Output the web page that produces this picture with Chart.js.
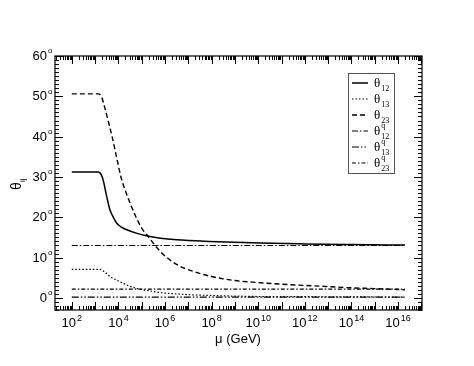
<!DOCTYPE html>
<html>
<head>
<meta charset="utf-8">
<script src="https://cdn.jsdelivr.net/npm/chart.js@4.4.1/dist/chart.umd.min.js"></script>
<style>
  body { margin: 0; background: #fff; }
  #wrap { width: 474px; height: 366px; }
</style>
</head>
<body>
<div id="wrap"><canvas id="mixChart" width="474" height="366"></canvas></div>
<script>
// log10(mu / GeV) and angles in degrees
const logMu12 = [2, 3.13, 3.28, 3.36, 3.43, 3.5, 3.64, 3.8, 3.93, 4.15, 4.36, 4.8, 5.2, 5.8, 6.5, 7.9, 10.1, 12, 14, 16.3];
const theta12 = [31.2, 31.2, 30.4, 28.9, 27.0, 25.1, 21.8, 19.8, 18.5, 17.5, 16.9, 16.0, 15.4, 14.8, 14.4, 14.0, 13.6, 13.4, 13.25, 13.1];

const logMu13 = [2, 3.2, 3.4, 3.64, 4.0, 4.36, 4.7, 5.07, 5.5, 5.8, 6.5, 7.2, 8, 9, 10, 12, 14, 16.3];
const theta13 = [7.1, 7.1, 6.5, 5.3, 4.2, 3.2, 2.5, 2.0, 1.6, 1.3, 1.0, 0.75, 0.6, 0.45, 0.35, 0.3, 0.25, 0.2];

const logMu23 = [2, 3.14, 3.28, 3.4, 3.6, 3.73, 3.9, 4.11, 4.4, 4.76, 5.0, 5.28, 5.8, 6.5, 7.2, 8.0, 9.0, 10.0, 11.0, 12.0, 13.0, 14.0, 15.0, 16.3];
const theta23 = [50.6, 50.6, 49.8, 47.5, 43.0, 40.0, 35.5, 30.0, 25.0, 20.0, 17.3, 15.2, 11.5, 8.3, 6.6, 5.3, 4.3, 3.8, 3.4, 3.1, 2.8, 2.5, 2.3, 2.0];

const logMuQ = [2, 16.3];
const thetaQ12 = [13.0, 13.0];
const thetaQ13 = [0.2, 0.2];
const thetaQ23 = [2.2, 2.2];

const yTicks = [0, 10, 20, 30, 40, 50, 60];
const xTickExps = [2, 4, 6, 8, 10, 12, 14, 16];

// legend: [superscript, subscript]
const legendLabels = [['', '12'], ['', '13'], ['', '23'], ['q', '12'], ['q', '13'], ['q', '23']];

function pts(xs, ys) {
    return xs.map((e, i) => ({ x: Math.pow(10, e), y: ys[i] }));
}

function line(ctx, x1, y1, x2, y2) {
    ctx.beginPath();
    ctx.moveTo(x1, y1);
    ctx.lineTo(x2, y2);
    ctx.stroke();
}

// frame with inward ticks, tick labels, axis titles and the legend box
const framePlugin = {
    id: 'frame',
    afterDraw(chart) {
        const { ctx, chartArea: a, scales: { x, y } } = chart;
        ctx.save();
        ctx.strokeStyle = '#000';
        ctx.fillStyle = '#000';
        ctx.lineWidth = 1.2;
        ctx.setLineDash([]);
        ctx.strokeRect(a.left, a.top, a.right - a.left, a.bottom - a.top);

        ctx.lineWidth = 1;
        // y ticks every degree
        for (let v = Math.ceil(y.min); v <= y.max; v++) {
            const p = Math.round(y.getPixelForValue(v)) + 0.5;
            const len = v % 10 === 0 ? 8 : 4;
            line(ctx, a.left, p, a.left + len, p);
            line(ctx, a.right, p, a.right - len, p);
        }
        // x ticks, log minor
        for (let d = 1; d <= 17; d++) {
            for (let k = 1; k <= 9; k++) {
                const val = k * Math.pow(10, d);
                if (val < x.min || val > x.max) continue;
                const p = Math.round(x.getPixelForValue(val)) + 0.5;
                const len = k === 1 ? 8 : 4;
                line(ctx, p, a.bottom, p, a.bottom - len);
                line(ctx, p, a.top, p, a.top + len);
            }
        }

        // y tick labels with superscript o
        ctx.textBaseline = 'middle';
        yTicks.forEach(v => {
            const p = y.getPixelForValue(v);
            ctx.font = '13px "Liberation Sans", Arial, sans-serif';
            ctx.textAlign = 'right';
            ctx.fillText(String(v), 47, p + 0.5);
            ctx.font = '8px "Liberation Sans", Arial, sans-serif';
            ctx.textAlign = 'left';
            ctx.fillText('o', 48, p - 5);
        });

        // x tick labels 10^n
        xTickExps.forEach(e => {
            const p = x.getPixelForValue(Math.pow(10, e));
            ctx.font = '13px "Liberation Sans", Arial, sans-serif';
            const wb = ctx.measureText('10').width;
            ctx.font = '9px "Liberation Sans", Arial, sans-serif';
            const we = ctx.measureText(String(e)).width;
            const left = p - (wb + 1 + we) / 2;
            ctx.textAlign = 'left';
            ctx.textBaseline = 'alphabetic';
            ctx.font = '13px "Liberation Sans", Arial, sans-serif';
            ctx.fillText('10', left, 327);
            ctx.font = '9px "Liberation Sans", Arial, sans-serif';
            ctx.fillText(String(e), left + wb + 1, 321);
        });

        // x title
        ctx.font = '13px "Liberation Sans", Arial, sans-serif';
        ctx.textAlign = 'center';
        ctx.fillText('\u03bc (GeV)', 238, 343);

        // y title, rotated
        ctx.save();
        ctx.translate(21, 184);
        ctx.rotate(-Math.PI / 2);
        ctx.textAlign = 'left';
        ctx.font = '14px "Liberation Sans", Arial, sans-serif';
        ctx.fillText('\u03b8', -6, 0);
        ctx.font = '8px "Liberation Sans", Arial, sans-serif';
        ctx.fillText('ij', 2, 4);
        ctx.restore();

        // legend box
        const bx = 348, by = 73, bw = 46, bh = 100;
        ctx.lineWidth = 1;
        ctx.strokeStyle = '#555';
        ctx.strokeRect(bx + 0.5, by + 0.5, bw, bh);
        ctx.strokeStyle = '#000';
        chart.data.datasets.forEach((ds, i) => {
            const ly = by + 10 + i * 16;
            ctx.lineWidth = ds.borderWidth;
            ctx.setLineDash(ds.borderDash || []);
            line(ctx, 352, ly, 368, ly);
            ctx.setLineDash([]);
            const [sup, sub] = legendLabels[i];
            ctx.textAlign = 'left';
            ctx.textBaseline = 'alphabetic';
            ctx.font = '13px "Liberation Serif", "Times New Roman", serif';
            ctx.fillText('\u03b8', 374, ly + 4);
            const tw = ctx.measureText('\u03b8').width;
            ctx.font = '8px "Liberation Serif", "Times New Roman", serif';
            if (sup) ctx.fillText(sup, 374 + tw + 1, ly - 3);
            ctx.fillText(sub, 374 + tw + 1, ly + 8);
        });
        ctx.restore();
    }
};

const ctx = document.getElementById('mixChart').getContext('2d');
const chart = new Chart(ctx, {
    type: 'line',
    data: {
        datasets: [
            { label: '\u03b812', data: pts(logMu12, theta12), borderWidth: 1.5, borderDash: [] },
            { label: '\u03b813', data: pts(logMu13, theta13), borderWidth: 1.2, borderDash: [1.5, 2] },
            { label: '\u03b823', data: pts(logMu23, theta23), borderWidth: 1.4, borderDash: [5, 3] },
            { label: '\u03b8q12', data: pts(logMuQ, thetaQ12), borderWidth: 1.2, borderDash: [6, 2, 1.5, 2] },
            { label: '\u03b8q13', data: pts(logMuQ, thetaQ13), borderWidth: 1.2, borderDash: [7, 2, 1.5, 2, 1.5, 2] },
            { label: '\u03b8q23', data: pts(logMuQ, thetaQ23), borderWidth: 1.2, borderDash: [4, 2, 1.5, 2] }
        ].map(d => Object.assign(d, {
            borderColor: '#000',
            backgroundColor: '#000',
            pointRadius: 0,
            fill: false,
            cubicInterpolationMode: 'monotone'
        }))
    },
    plugins: [framePlugin],
    options: {
        responsive: false,
        animation: false,
        layout: { padding: { left: 55, right: 52, top: 56, bottom: 56 } },
        plugins: { legend: { display: false }, tooltip: { enabled: false } },
        scales: {
            x: { type: 'logarithmic', min: 19, max: 1.07e17, display: false },
            y: { type: 'linear', min: -3, max: 60, display: false }
        }
    }
});
</script>
</body>
</html>
